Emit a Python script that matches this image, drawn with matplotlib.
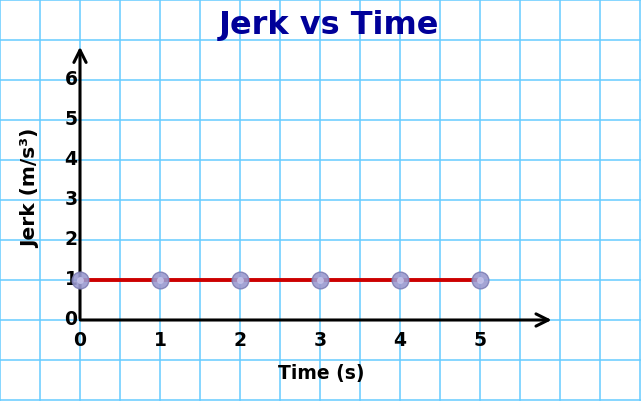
import numpy as np
import matplotlib
matplotlib.use("Agg")
import matplotlib.pyplot as plt

# data
times = [0, 1, 2, 3, 4, 5]
jerk = [1, 1, 1, 1, 1, 1]
x_ticks = [0, 1, 2, 3, 4, 5]
y_ticks = [0, 1, 2, 3, 4, 5, 6]

fig = plt.figure(figsize=(6.41, 4.01), dpi=100)
ax = fig.add_axes([0, 0, 1, 1])
ax.set_xlim(-1, 7.0125)
ax.set_ylim(-2.025, 8)
for s in ax.spines.values():
    s.set_visible(False)

# graph paper grid
grid_c = "#66ccff"
ax.set_xticks(np.arange(-1, 7.01, 0.5))
ax.set_yticks(np.arange(-2, 8.01, 1))
ax.tick_params(length=0, labelbottom=False, labelleft=False)
ax.grid(True, color=grid_c, linewidth=1.1)
ax.set_axisbelow(True)

# axes with arrows
arrow = dict(arrowstyle="->", color="black", lw=2.2, mutation_scale=22)
ax.annotate("", xy=(0, 6.9), xytext=(0, -0.03), arrowprops=arrow)
ax.annotate("", xy=(5.93, 0), xytext=(-0.03, 0), arrowprops=arrow)

lab = dict(fontsize=13.5, fontweight="bold", color="black")
for t in x_ticks:
    ax.text(t, -0.5, str(t), ha="center", va="center", **lab)
for v in y_ticks:
    ax.text(-0.03, v + 0.02, str(v), ha="right", va="center", **lab)

# series
ax.plot(times, jerk, color="#cc0000", lw=2.8, zorder=3)
ax.plot(times, jerk, "o", ms=12, mfc="#9a9ad0", mec="#7f7fb5", mew=1, alpha=0.9, zorder=4)
ax.plot(times, jerk, "o", ms=5, mfc="#c8c8ee", mec="none", alpha=0.8, zorder=5)

ax.text(3.11, 7.37, "Jerk vs Time", ha="center", va="center",
        fontsize=23, fontweight="bold", color="#000099")
ax.text(3.02, -1.35, "Time (s)", ha="center", va="center", fontsize=13.5, fontweight="bold")
ax.text(-0.62, 3.3, "Jerk (m/s³)", ha="center", va="center", rotation=90,
        fontsize=14.5, fontweight="bold")

fig.savefig("out.png", dpi=100)
